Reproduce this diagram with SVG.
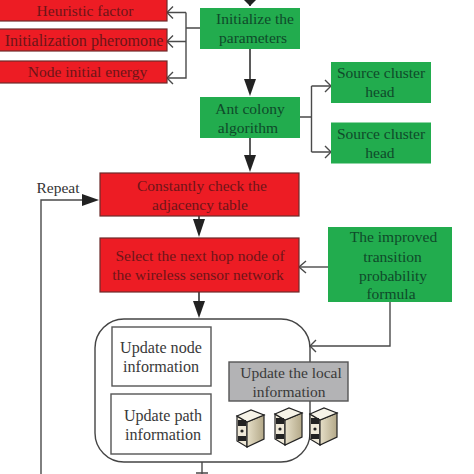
<svg xmlns="http://www.w3.org/2000/svg" width="474" height="474" viewBox="0 0 474 474">
<style>
text{font-family:"Liberation Serif","Times New Roman",serif;font-size:15.500px;text-anchor:middle}
.r rect{fill:#ed1c24;stroke:#6d2a2a;stroke-width:1.2}
.r text{fill:#6e1518}
.g rect{fill:#22ac4e}
.g text{fill:#0f4a2a}
.w rect{fill:#fff;stroke:#555;stroke-width:1.4}
.w text{font-size:16.100px}
.w text,.k text{fill:#3a3a3a}
.k rect{fill:#b3b3b5;stroke:#555;stroke-width:1.4}
.c path{fill:none;stroke:#4a4a4a;stroke-width:1.4}
.c path.d{stroke:#333;stroke-width:1.6}
.c polygon{fill:#222}
.body{fill:#efe9d8;stroke:#222;stroke-width:1.2}
.side{fill:url(#sideShade);stroke:#222;stroke-width:1.2}
.top{fill:#f6f3e8;stroke:#222;stroke-width:1.2}
.dk{fill:#222}
</style>
<defs>
<linearGradient id="sideShade" x1="0" y1="0" x2="1" y2="0"><stop offset="0" stop-color="#e6dfc8"/><stop offset="1" stop-color="#b3a888"/></linearGradient>
<g id="server">
<polygon class="body" points="0,6 10,12 10,37 0,31"/>
<polygon class="side" points="10,12 27,5 27,29 10,37"/>
<polygon class="top" points="0,6 14,0 27,5 10,12"/>
<rect class="dk" x="1" y="10" width="8" height="6"/>
<rect class="dk" x="1" y="26" width="8" height="5"/>
<circle class="dk" cx="5" cy="21" r="1.6"/>
</g>
</defs>
<g id="connectors" class="c">
<path d="M201 28H186M186 12.500V78H167M186 41.500H167M186 12.500H167"/>
<path d="M173 6.500L167 12.500L173 18.500M173 35.500L167 41.500L173 47.500M173 72L167 78L173 84"/>
<path class="d" d="M250 0V6M250 48V82M250 138V158M199 216V222M199 292V304"/>
<polygon points="244,0 256,0 250,6"/>
<polygon points="244,79 256,79 250,96"/>
<polygon points="244,155 256,155 250,172"/>
<polygon points="193,219 205,219 199,237"/>
<polygon points="193,301 205,301 199,318"/>
<path d="M300 117H311.500M311.500 86V152M311.500 86H331M311.500 152H331"/>
<path d="M325 80L331 86L325 92M325 146L331 152L325 158"/>
<path d="M41 474V200H84"/>
<polygon points="82,194 99,200 82,206"/>
<path d="M328 267H300"/>
<path d="M306 261L299 267L306 273"/>
<path d="M390 302V346H310"/>
<path d="M316 340L310 346L316 352"/>
<path d="M202 462V474M196 473H208"/>
</g>
<g id="heuristic-factor" class="r"><rect x="-2" y="-3" width="169" height="24"/><text x="85" y="15.500">Heuristic factor</text></g>
<g id="initialization-pheromone" class="r"><rect x="-2" y="29" width="169" height="22"/><text x="84" y="46" style="font-size:16.100px">Initialization pheromone</text></g>
<g id="node-initial-energy" class="r"><rect x="-2" y="61" width="169" height="22"/><text x="87.500" y="77">Node initial energy</text></g>
<g id="initialize" class="g"><rect x="200" y="8" width="100" height="41"/><text x="255" y="24">Initialize the</text><text x="253" y="43">parameters</text></g>
<g id="ant-colony" class="g"><rect x="200" y="97" width="100" height="41"/><text x="250" y="114">Ant colony</text><text x="248" y="133">algorithm</text></g>
<g id="source-1" class="g"><rect x="331" y="62" width="100" height="41"/><text x="381" y="78">Source cluster</text><text x="380" y="97">head</text></g>
<g id="source-2" class="g"><rect x="331" y="122.500" width="100" height="41"/><text x="381" y="139">Source cluster</text><text x="380" y="158">head</text></g>
<g id="check-table" class="r"><rect x="100" y="173" width="199" height="43"/><text x="202" y="191">Constantly check the</text><text x="200" y="210">adjacency table</text></g>
<g id="select-hop" class="r"><rect x="100" y="238" width="199" height="54"/><text x="200" y="261">Select the next hop node of</text><text x="198" y="280">the wireless sensor network</text></g>
<g id="transition-formula" class="g"><rect x="328" y="227" width="124" height="75"/><text x="393.500" y="242">The improved</text><text x="392.500" y="262">transition</text><text x="393" y="281">probability</text><text x="391" y="299">formula</text></g>
<rect id="update-container" x="95" y="319" width="215" height="143" rx="29" fill="none" stroke="#444" stroke-width="1.4"/>
<g id="update-node" class="w"><rect x="112" y="327" width="99" height="59"/><text x="161" y="353">Update node</text><text x="161" y="372">information</text></g>
<g id="update-path" class="w"><rect x="111" y="394" width="100" height="60"/><text x="163" y="421">Update path</text><text x="163" y="440">information</text></g>
<g id="update-local" class="k"><rect x="229" y="362" width="119" height="39"/><text x="291" y="378">Update the local</text><text x="289" y="397">information</text></g>
<g id="servers"><use href="#server" x="237" y="410"/><use href="#server" x="275" y="408"/><use href="#server" x="310" y="408"/></g>
<text x="58" y="192.500" style="fill:#333">Repeat</text>
</svg>
